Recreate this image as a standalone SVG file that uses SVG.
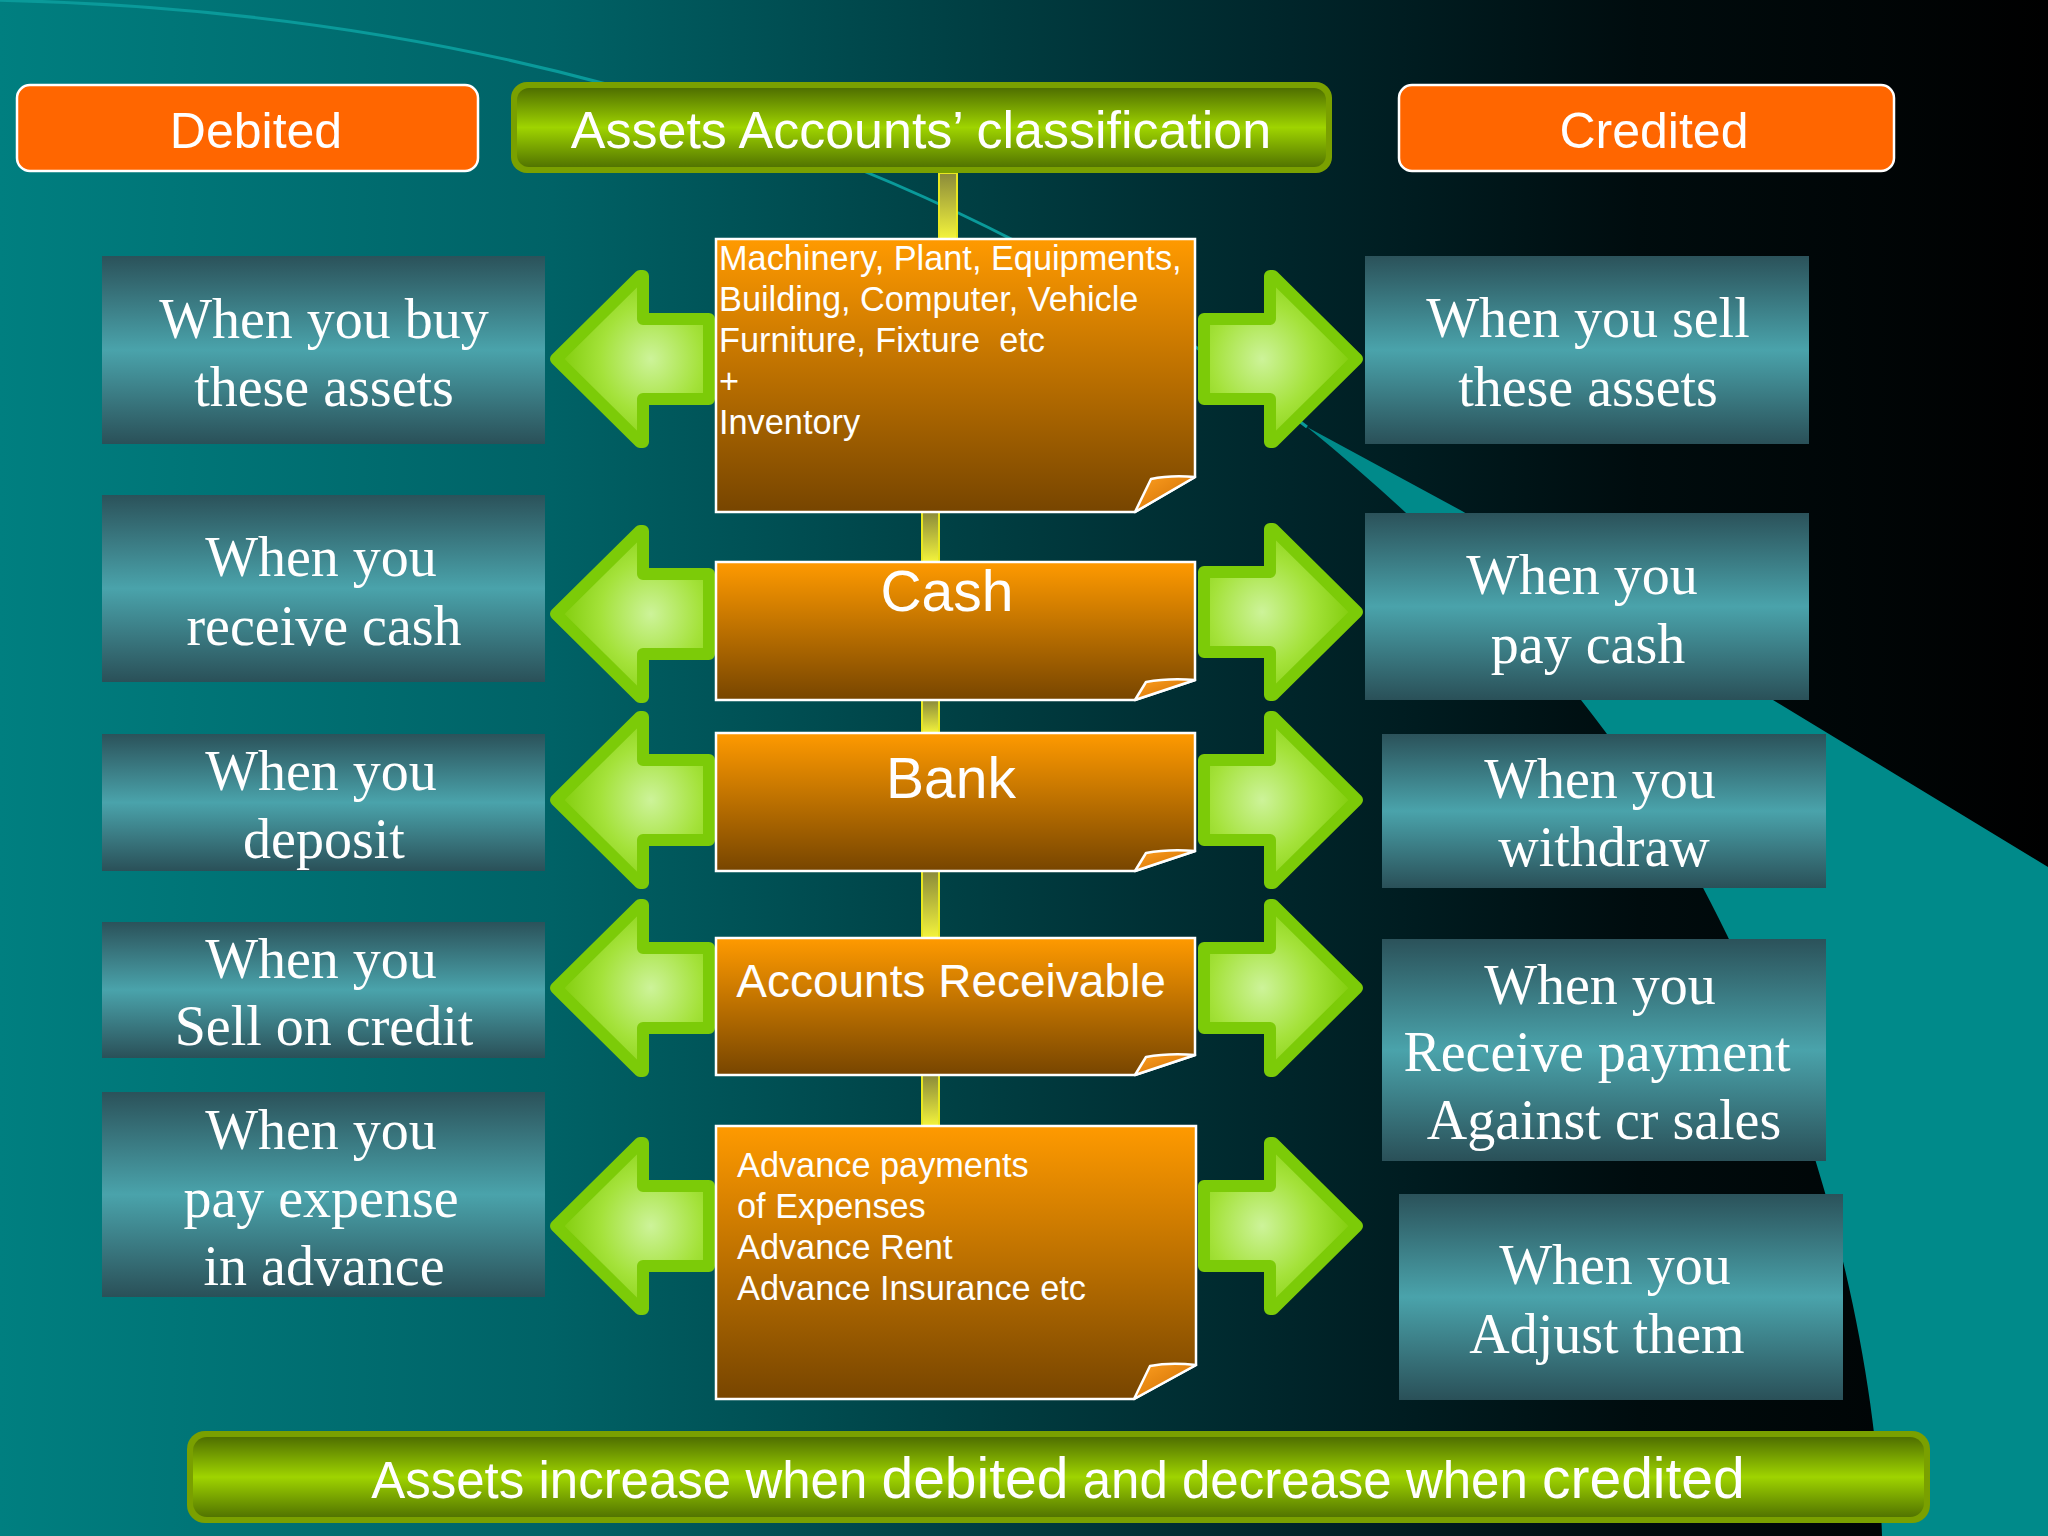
<svg xmlns="http://www.w3.org/2000/svg" width="2048" height="1536" viewBox="0 0 2048 1536">
<defs>
<linearGradient id="bg" x1="0" y1="0" x2="1" y2="0">
<stop offset="0" stop-color="#007f80"/>
<stop offset="0.27" stop-color="#006266"/>
<stop offset="0.49" stop-color="#003c40"/>
<stop offset="0.63" stop-color="#00252a"/>
<stop offset="0.8" stop-color="#000c0e"/>
<stop offset="1" stop-color="#000000"/>
</linearGradient>
<linearGradient id="tealBox" x1="0" y1="0" x2="0" y2="1">
<stop offset="0" stop-color="#2b525a"/>
<stop offset="0.5" stop-color="#4aa3ab"/>
<stop offset="1" stop-color="#2a5058"/>
</linearGradient>
<linearGradient id="note" x1="0" y1="0" x2="0" y2="1">
<stop offset="0" stop-color="#ff9a00"/>
<stop offset="1" stop-color="#774500"/>
</linearGradient>
<linearGradient id="flap" x1="0" y1="0" x2="1" y2="1">
<stop offset="0" stop-color="#ffa020"/>
<stop offset="1" stop-color="#c86800"/>
</linearGradient>
<linearGradient id="greenBar" x1="0" y1="0" x2="0" y2="1">
<stop offset="0" stop-color="#4f6f00"/>
<stop offset="0.5" stop-color="#9fd400"/>
<stop offset="1" stop-color="#527400"/>
</linearGradient>
<linearGradient id="bar" x1="0" y1="0" x2="0" y2="1">
<stop offset="0" stop-color="#8a8a3a"/>
<stop offset="1" stop-color="#f4f43c"/>
</linearGradient>
<radialGradient id="arrowG" cx="0.62" cy="0.5" r="0.6">
<stop offset="0" stop-color="#cdf39a"/>
<stop offset="0.55" stop-color="#a4e23a"/>
<stop offset="1" stop-color="#80cc0a"/>
</radialGradient>
<path id="arrowL" d="M 8,0 L 92,-83 L 95,-83 L 95,-40 L 161,-40 L 161,40 L 95,40 L 95,83 L 92,83 Z"/>
<style>
.btn{fill:#ff6600;stroke:#ffffff;stroke-width:2.5}
.btnT{font-family:"Liberation Sans",Arial,sans-serif;font-size:50px;fill:#ffffff;text-anchor:middle}
.big{font-size:52px}
.foot{font-size:51px}
.emph{font-size:57px}
.tbox{fill:url(#tealBox)}
.ser{font-family:"Liberation Serif","Times New Roman",serif;font-size:56px;fill:#ffffff;text-anchor:middle}
.note{fill:url(#note);stroke:#ffffff;stroke-width:2.5}
.flap{fill:url(#flap);stroke:#ffffff;stroke-width:2.5;stroke-linejoin:round}
.nt{font-family:"Liberation Sans",Arial,sans-serif;font-size:34.3px;fill:#ffffff;white-space:pre}
.nh{font-family:"Liberation Sans",Arial,sans-serif;fill:#ffffff;text-anchor:middle}
.arr{fill:url(#arrowG);stroke:#7ccb08;stroke-width:12;stroke-linejoin:round}
.bar{fill:url(#bar);stroke:#e8e820;stroke-width:2}
.gOut{fill:#7aa000}
.gIn{fill:url(#greenBar)}
</style>
</defs>

<g id="background">
<rect x="0" y="0" width="2048" height="1536" fill="url(#bg)"/>
<path d="M 1307,427 L 1462,511 L 2048,867 L 2048,1536 L 1882,1536 C 1875,1300 1780,950 1581,700 Q 1470,560 1307,427 Z" fill="#008a8a"/>
<path d="M -10,0 C 500,10 950,150 1307,427" fill="none" stroke="#0a9a9a" stroke-width="3"/>
</g>

<g id="connectors">
<rect class="bar" x="939" y="173" width="18" height="66"/>
<rect class="bar" x="922" y="512" width="17" height="50"/>
<rect class="bar" x="922" y="700" width="17" height="33"/>
<rect class="bar" x="922" y="871" width="17" height="67"/>
<rect class="bar" x="922" y="1075" width="17" height="51"/>
<g id="arrows-left">
<use href="#arrowL" class="arr" transform="translate(548,359)"/>
<use href="#arrowL" class="arr" transform="translate(548,614)"/>
<use href="#arrowL" class="arr" transform="translate(548,800)"/>
<use href="#arrowL" class="arr" transform="translate(548,988)"/>
<use href="#arrowL" class="arr" transform="translate(548,1226)"/>
</g>
<g id="arrows-right">
<use href="#arrowL" class="arr" transform="translate(1365,359) scale(-1,1)"/>
<use href="#arrowL" class="arr" transform="translate(1365,612) scale(-1,1)"/>
<use href="#arrowL" class="arr" transform="translate(1365,800) scale(-1,1)"/>
<use href="#arrowL" class="arr" transform="translate(1365,988) scale(-1,1)"/>
<use href="#arrowL" class="arr" transform="translate(1365,1226) scale(-1,1)"/>
</g>
</g>

<g id="debited">
<rect class="btn" x="17" y="85" width="461" height="86" rx="13"/>
<text class="btnT" x="256" y="148">Debited</text>
</g>
<g id="title">
<rect class="gOut" x="511" y="82" width="821" height="91" rx="16"/>
<rect class="gIn" x="517" y="88" width="809" height="79" rx="12"/>
<text class="btnT big" x="921" y="148">Assets Accounts’ classification</text>
</g>
<g id="credited">
<rect class="btn" x="1399" y="85" width="495" height="86" rx="13"/>
<text class="btnT" x="1654" y="148">Credited</text>
</g>

<g id="left-1"><rect class="tbox" x="102" y="256" width="443" height="188"/>
<text class="ser" x="324" y="338">When you buy</text><text class="ser" x="324" y="406">these assets</text></g>
<g id="left-2"><rect class="tbox" x="102" y="495" width="443" height="187"/>
<text class="ser" x="321" y="576">When you</text><text class="ser" x="324" y="645">receive cash</text></g>
<g id="left-3"><rect class="tbox" x="102" y="734" width="443" height="137"/>
<text class="ser" x="321" y="790">When you</text><text class="ser" x="324" y="858">deposit</text></g>
<g id="left-4"><rect class="tbox" x="102" y="922" width="443" height="136"/>
<text class="ser" x="321" y="978">When you</text><text class="ser" x="324" y="1045">Sell on credit</text></g>
<g id="left-5"><rect class="tbox" x="102" y="1092" width="443" height="205"/>
<text class="ser" x="321" y="1149">When you</text><text class="ser" x="321" y="1217">pay expense</text><text class="ser" x="324" y="1285">in advance</text></g>

<g id="right-1"><rect class="tbox" x="1365" y="256" width="444" height="188"/>
<text class="ser" x="1588" y="337">When you sell</text><text class="ser" x="1588" y="406">these assets</text></g>
<g id="right-2"><rect class="tbox" x="1365" y="513" width="444" height="187"/>
<text class="ser" x="1582" y="594">When you</text><text class="ser" x="1588" y="663">pay cash</text></g>
<g id="right-3"><rect class="tbox" x="1382" y="734" width="444" height="154"/>
<text class="ser" x="1600" y="798">When you</text><text class="ser" x="1604" y="866">withdraw</text></g>
<g id="right-4"><rect class="tbox" x="1382" y="939" width="444" height="222"/>
<text class="ser" x="1600" y="1004">When you</text><text class="ser" x="1597" y="1071">Receive payment</text><text class="ser" x="1604" y="1139">Against cr sales</text></g>
<g id="right-5"><rect class="tbox" x="1399" y="1194" width="444" height="206"/>
<text class="ser" x="1615" y="1284">When you</text><text class="ser" x="1607" y="1353">Adjust them</text></g>

<g id="note-1">
<path class="note" d="M 716,239 L 1195,239 L 1195,477 L 1135,512 L 716,512 Z"/>
<path class="flap" d="M 1135,512 L 1151,479 Q 1170,475 1195,477 Z"/>
<text class="nt" x="719" y="270">Machinery, Plant, Equipments,</text>
<text class="nt" x="719" y="311">Building, Computer, Vehicle</text>
<text class="nt" x="719" y="352">Furniture, Fixture  etc</text>
<text class="nt" x="719" y="393">+</text>
<text class="nt" x="719" y="434">Inventory</text>
</g>
<g id="note-2">
<path class="note" d="M 716,562 L 1195,562 L 1195,680 L 1135,700 L 716,700 Z"/>
<path class="flap" d="M 1135,700 L 1146,682 Q 1168,678 1195,680 Z"/>
<text class="nh" x="947" y="611" font-size="57">Cash</text>
</g>
<g id="note-3">
<path class="note" d="M 716,733 L 1195,733 L 1195,851 L 1135,871 L 716,871 Z"/>
<path class="flap" d="M 1135,871 L 1146,853 Q 1168,849 1195,851 Z"/>
<text class="nh" x="951" y="798" font-size="57">Bank</text>
</g>
<g id="note-4">
<path class="note" d="M 716,938 L 1195,938 L 1195,1055 L 1135,1075 L 716,1075 Z"/>
<path class="flap" d="M 1135,1075 L 1146,1057 Q 1168,1053 1195,1055 Z"/>
<text class="nh" x="951" y="997" font-size="46">Accounts Receivable</text>
</g>
<g id="note-5">
<path class="note" d="M 716,1126 L 1196,1126 L 1196,1365 L 1134,1399 L 716,1399 Z"/>
<path class="flap" d="M 1134,1399 L 1150,1366 Q 1170,1362 1196,1365 Z"/>
<text class="nt" x="737" y="1177">Advance payments</text>
<text class="nt" x="737" y="1218">of Expenses</text>
<text class="nt" x="737" y="1259">Advance Rent</text>
<text class="nt" x="737" y="1300">Advance Insurance etc</text>
</g>

<g id="footer">
<rect class="gOut" x="187" y="1431" width="1743" height="92" rx="18"/>
<rect class="gIn" x="193" y="1437" width="1731" height="80" rx="14"/>
<text class="btnT foot" x="1058" y="1498">Assets increase when <tspan class="emph">debited</tspan> and decrease when <tspan class="emph">credited</tspan></text>
</g>
</svg>
